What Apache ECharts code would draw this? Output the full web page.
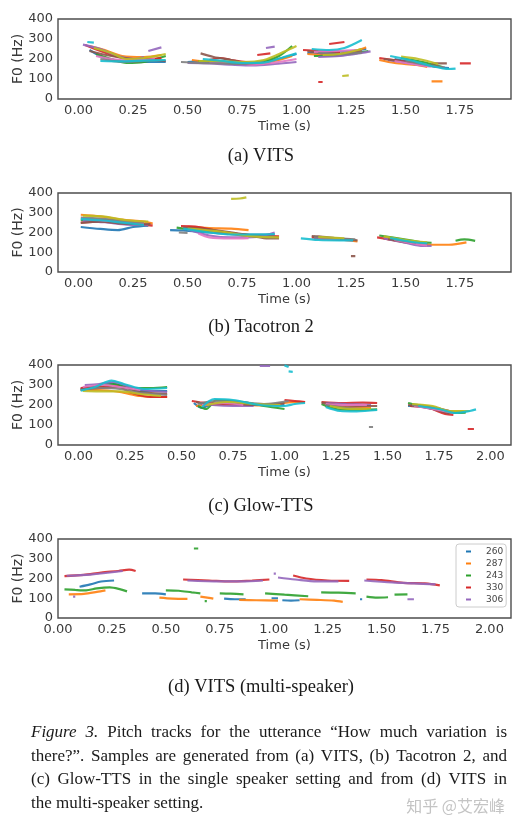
<!DOCTYPE html>
<html><head><meta charset="utf-8">
<script src="https://cdn.jsdelivr.net/npm/echarts@6/dist/echarts.min.js"></script>
<style>html,body{margin:0;padding:0;background:#fff;}#c{width:520px;height:831px;}</style>
</head><body><div id="c"></div>
<script>
// ---------- data ----------
const COLORS = ['#1f77b4','#ff7f0e','#2ca02c','#d62728','#9467bd','#8c564b','#e377c2','#7f7f7f','#bcbd22','#17becf'];
const xTicksA = [0, 0.25, 0.5, 0.75, 1.0, 1.25, 1.5, 1.75];
const xTicksC = [0, 0.25, 0.5, 0.75, 1.0, 1.25, 1.5, 1.75, 2.0];
const yTicks = [0, 100, 200, 300, 400];
const speakers = ['260', '287', '243', '330', '306'];
const panelTitles = ['(a) VITS', '(b) Tacotron 2', '(c) Glow-TTS', '(d) VITS (multi-speaker)'];

// each sample: list of voiced segments, each [time (s), F0 (Hz)]
const tracksVITS = [
 [[[0.05,245],[0.12,205],[0.2,190],[0.3,185],[0.4,185]],[[0.5,185],[0.6,190],[0.7,180],[0.8,178],[0.9,195],[1.0,225]],[[1.05,230],[1.15,235],[1.25,240],[1.32,250]],[[1.45,200],[1.55,180],[1.65,160],[1.7,155]]],
 [[[0.05,265],[0.12,245],[0.2,215],[0.3,210],[0.38,220]],[[0.52,195],[0.6,185],[0.7,178],[0.8,175],[0.9,190],[0.98,215]],[[1.05,225],[1.15,220],[1.25,235],[1.32,258]],[[1.38,195],[1.45,180],[1.55,170],[1.6,160]],[[1.62,88],[1.67,88]]],
 [[[0.08,225],[0.15,200],[0.22,180],[0.3,185],[0.4,215]],[[0.55,188],[0.65,185],[0.75,178],[0.85,190],[0.92,215],[0.98,265]],[[1.08,215],[1.15,215],[1.25,225],[1.33,240]],[[1.48,205],[1.58,185],[1.67,160]]],
 [[[0.03,270],[0.1,240],[0.2,205],[0.3,200],[0.38,205]],[[0.6,195],[0.65,205],[0.7,195],[0.8,180]],[[0.82,220],[0.88,228]],[[1.03,245],[1.1,240],[1.2,235]],[[1.15,275],[1.22,285]],[[1.1,85],[1.12,85]],[[1.38,205],[1.48,190],[1.58,172],[1.65,162]],[[1.75,178],[1.8,178]]],
 [[[0.02,272],[0.1,250],[0.18,215],[0.26,200],[0.3,210]],[[0.32,240],[0.38,258]],[[0.5,180],[0.6,178],[0.7,172],[0.8,168],[0.9,175],[1.0,185]],[[0.86,255],[0.9,262]],[[1.1,210],[1.2,215],[1.3,230],[1.34,238]],[[1.42,195],[1.52,178],[1.6,165]]],
 [[[0.05,240],[0.15,215],[0.25,200],[0.35,195],[0.4,190]],[[0.56,228],[0.62,210],[0.7,195],[0.8,175],[0.88,180]],[[1.05,240],[1.15,225],[1.25,230],[1.3,240]],[[1.4,200],[1.5,185],[1.6,168]],[[1.62,178],[1.69,178]]],
 [[[0.08,215],[0.15,200],[0.25,195],[0.35,200]],[[0.6,182],[0.7,185],[0.8,172],[0.9,182],[1.0,200]],[[1.08,235],[1.18,240],[1.28,245]],[[1.45,190],[1.55,172],[1.62,162]]],
 [[[0.1,200],[0.2,185],[0.3,190],[0.38,195]],[[0.47,185],[0.55,180],[0.65,178],[0.75,175],[0.85,185]],[[1.1,230],[1.2,225],[1.3,232]],[[1.5,190],[1.6,170],[1.68,158]]],
 [[[0.07,255],[0.15,230],[0.22,200],[0.3,205],[0.4,225]],[[0.55,190],[0.65,190],[0.75,185],[0.85,195],[0.95,240],[1.0,265]],[[1.12,220],[1.2,225],[1.3,250]],[[1.21,115],[1.24,118]],[[1.48,212],[1.56,200],[1.65,175]]],
 [[[0.04,285],[0.07,282]],[[0.1,190],[0.2,188],[0.3,192],[0.4,195]],[[0.57,200],[0.65,192],[0.75,180],[0.85,182],[0.93,205],[1.0,228]],[[1.07,250],[1.15,245],[1.22,255],[1.3,295]],[[1.43,215],[1.52,195],[1.62,165],[1.7,150],[1.73,152]]]
];

const tracksTaco = [
 [[[0.01,228],[0.1,218],[0.18,212],[0.25,228],[0.32,235]],[[0.42,212],[0.48,210],[0.6,200],[0.75,190],[0.9,190]],[[1.1,170],[1.2,165],[1.25,162]],[[1.42,170],[1.5,150],[1.58,140]]],
 [[[0.01,290],[0.1,282],[0.2,265],[0.3,255],[0.34,245]],[[0.5,228],[0.6,222],[0.7,220],[0.78,212]],[[1.12,168],[1.22,162],[1.28,155]],[[1.4,170],[1.5,150],[1.6,138],[1.7,138],[1.78,150]]],
 [[[0.01,262],[0.1,265],[0.2,255],[0.3,245]],[[0.45,225],[0.55,210],[0.65,200],[0.8,185],[0.9,175]],[[1.08,178],[1.18,168],[1.27,162]],[[1.38,185],[1.48,168],[1.58,150],[1.62,148]],[[1.73,158],[1.77,165],[1.82,158]]],
 [[[0.01,250],[0.1,255],[0.2,248],[0.3,240],[0.34,235]],[[0.47,232],[0.55,228],[0.65,205],[0.8,185],[0.92,180]],[[1.07,175],[1.15,170],[1.25,165]],[[1.37,175],[1.47,158],[1.57,140]]],
 [[[0.02,258],[0.12,252],[0.22,240],[0.32,238]],[[0.5,215],[0.6,185],[0.7,175],[0.82,178],[0.9,200]],[[1.08,170],[1.18,165],[1.26,160]],[[1.4,170],[1.5,148],[1.58,132],[1.62,132]]],
 [[[0.01,248],[0.1,255],[0.2,245],[0.33,242]],[[0.48,225],[0.6,215],[0.75,192],[0.85,172],[0.92,170]],[[1.07,182],[1.1,180],[1.2,168],[1.28,160]],[[1.25,80],[1.27,80]],[[1.42,168],[1.52,150],[1.6,140]]],
 [[[0.02,270],[0.1,262],[0.2,255],[0.3,248]],[[0.55,195],[0.6,175],[0.7,170],[0.78,172]],[[1.1,172],[1.2,168]],[[1.45,162],[1.55,142],[1.6,135]]],
 [[[0.01,275],[0.1,270],[0.2,258],[0.3,250]],[[0.46,200],[0.5,198]],[[0.6,205],[0.75,185],[0.9,175]],[[1.08,175],[1.2,170],[1.27,165]],[[1.45,165],[1.55,148]]],
 [[[0.02,285],[0.12,280],[0.22,262],[0.32,255]],[[0.5,220],[0.65,205],[0.8,180],[0.92,175]],[[0.7,370],[0.74,372],[0.77,378]],[[1.1,178],[1.22,170]],[[1.4,180],[1.5,162],[1.6,150]]],
 [[[0.01,268],[0.1,262],[0.2,250],[0.3,238]],[[0.48,220],[0.6,200],[0.7,190],[0.85,190],[0.9,192]],[[1.02,170],[1.1,162],[1.2,160],[1.26,160]],[[1.43,172],[1.53,152],[1.6,145]]]
];

const tracksGlow = [
 [[[0.01,280],[0.08,295],[0.15,310],[0.2,300],[0.3,270],[0.43,270]],[[0.56,210],[0.6,185],[0.65,205],[0.75,205],[0.9,200],[1.0,200]],[[1.2,200],[1.3,185],[1.42,180]],[[1.6,195],[1.7,190],[1.8,165],[1.88,165]]],
 [[[0.01,275],[0.1,275],[0.2,265],[0.3,245],[0.43,240]],[[0.57,195],[0.63,200],[0.75,200],[0.9,198],[1.05,215],[1.1,215]],[[1.2,195],[1.3,190],[1.42,185]],[[1.62,200],[1.72,190],[1.8,170],[1.87,168]]],
 [[[0.02,285],[0.1,295],[0.17,305],[0.25,285],[0.35,285],[0.43,290]],[[0.58,195],[0.62,180],[0.67,225],[0.8,215],[0.9,195],[1.0,180]],[[1.18,205],[1.25,180],[1.35,175],[1.45,178]],[[1.6,210],[1.62,205],[1.7,190],[1.8,160],[1.88,162]]],
 [[[0.01,285],[0.1,290],[0.18,295],[0.26,260],[0.35,240],[0.43,240]],[[0.55,220],[0.6,212],[0.7,205],[0.85,200]],[[1.0,225],[1.05,220],[1.1,215]],[[1.18,215],[1.28,210],[1.38,212],[1.45,210]],[[1.61,195],[1.7,185],[1.78,155],[1.82,150]],[[1.89,80],[1.92,80]]],
 [[[0.03,300],[0.1,305],[0.17,315],[0.25,290],[0.35,270],[0.43,265]],[[0.58,210],[0.65,200],[0.75,195],[0.85,195]],[[0.88,395],[0.93,395]],[[1.2,210],[1.3,205],[1.42,200]],[[1.62,198],[1.72,180],[1.8,160]]],
 [[[0.01,278],[0.1,285],[0.2,290],[0.3,265],[0.43,255]],[[0.57,215],[0.62,205],[0.7,210],[0.85,200],[1.0,210]],[[1.18,212],[1.25,200],[1.35,195],[1.45,195]],[[1.6,200],[1.7,185],[1.8,158]]],
 [[[0.02,290],[0.12,300],[0.2,290],[0.3,275]],[[0.6,200],[0.7,210],[0.8,200]],[[1.2,205],[1.3,200],[1.4,200]],[[1.63,195],[1.75,175],[1.82,160]]],
 [[[0.01,275],[0.1,285],[0.2,280],[0.3,260],[0.43,250]],[[0.58,205],[0.66,220],[0.78,215],[0.9,205],[1.02,220]],[[1.2,200],[1.3,185],[1.4,180]],[[1.41,90],[1.43,90]],[[1.62,200],[1.72,188],[1.82,165]]],
 [[[0.02,270],[0.1,268],[0.2,268],[0.3,255],[0.4,245]],[[0.62,200],[0.72,215],[0.85,205],[0.98,200]],[[1.22,195],[1.32,180],[1.42,180]],[[1.62,205],[1.72,195],[1.8,170],[1.9,170]]],
 [[[0.01,272],[0.08,290],[0.16,322],[0.22,305],[0.32,280],[0.43,285]],[[0.6,190],[0.66,230],[0.75,225],[0.88,200],[1.0,195],[1.05,205],[1.1,210]],[[1.0,398],[1.02,390]],[[1.02,368],[1.04,366]],[[1.2,190],[1.27,170],[1.35,168],[1.45,175]],[[1.65,195],[1.75,180],[1.83,160],[1.9,170],[1.93,178]]]
];

const tracksMulti = [
 [[[0.1,158],[0.15,170],[0.2,185],[0.26,190]],[[0.39,125],[0.45,125],[0.5,120]],[[0.77,98],[0.82,95],[0.87,95]],[[0.99,100],[1.02,100]],[[1.04,90],[1.08,88],[1.12,90]],[[1.4,95],[1.41,95]]],
 [[[0.05,120],[0.12,122],[0.18,132],[0.22,140]],[[0.47,103],[0.53,98],[0.6,97]],[[0.66,108],[0.7,102],[0.72,98]],[[0.84,92],[0.92,90],[1.02,88]],[[1.12,95],[1.2,92],[1.28,88],[1.32,82]]],
 [[[0.03,145],[0.08,142],[0.13,140],[0.18,150],[0.24,155],[0.29,145],[0.32,135]],[[0.5,140],[0.56,138],[0.62,130],[0.66,125]],[[0.68,85],[0.69,85]],[[0.63,352],[0.65,352]],[[0.75,125],[0.8,123],[0.86,120]],[[0.96,125],[1.05,118],[1.16,110]],[[1.22,130],[1.3,128],[1.38,125]],[[1.43,108],[1.48,103],[1.53,105]],[[1.56,118],[1.62,120]]],
 [[[0.03,212],[0.12,218],[0.2,230],[0.28,238],[0.33,245],[0.36,238]],[[0.58,195],[0.7,190],[0.8,185],[0.9,190],[0.98,195]],[[1.09,215],[1.15,200],[1.25,190],[1.35,188]],[[1.43,195],[1.5,192],[1.6,178],[1.7,175],[1.77,165]]],
 [[[0.04,214],[0.15,220],[0.3,238]],[[0.07,108],[0.08,108]],[[0.6,190],[0.75,185],[0.85,185],[0.95,190]],[[1.0,225],[1.01,225]],[[1.02,205],[1.1,195],[1.2,185],[1.3,185]],[[1.42,190],[1.55,180],[1.65,175],[1.75,170]],[[1.62,95],[1.65,95]]]
];

// ---------- layout ----------
const FONT = 'DejaVu Sans';
const SERIF = 'Liberation Serif';
const panels = [
  {tracks: tracksVITS, top: 19, height: 80, min: -0.0945, max: 1.9845, ticks: xTicksA},
  {tracks: tracksTaco, top: 193, height: 79, min: -0.0945, max: 1.9845, ticks: xTicksA},
  {tracks: tracksGlow, top: 365, height: 80, min: -0.1, max: 2.1, ticks: xTicksC},
  {tracks: tracksMulti, top: 539, height: 79, min: 0, max: 2.1, ticks: xTicksC}
];
const captionY = [156, 327, 506, 687];

const grid = [], xAxis = [], yAxis = [], series = [];
panels.forEach((p, gi) => {
  grid.push({left: 58, top: p.top, width: 453, height: p.height, show: true,
    borderColor: '#4d4d4d', borderWidth: 1.4, backgroundColor: 'transparent', outerBoundsMode: 'none'});
  xAxis.push({type: 'value', gridIndex: gi, min: p.min, max: p.max,
    axisLine: {show: false}, axisTick: {show: false}, splitLine: {show: false},
    axisLabel: {customValues: p.ticks, formatter: v => v.toFixed(2), fontFamily: FONT, fontSize: 13, color: '#3a3a3a', margin: 5},
    name: 'Time (s)', nameLocation: 'middle', nameGap: 21, nameMoveOverlap: false,
    nameTextStyle: {fontFamily: FONT, fontSize: 13, color: '#3a3a3a'}});
  yAxis.push({type: 'value', gridIndex: gi, min: 0, max: 400, interval: 100,
    axisLine: {show: false}, axisTick: {show: false}, splitLine: {show: false},
    axisLabel: {customValues: yTicks, fontFamily: FONT, fontSize: 13, color: '#3a3a3a', margin: 5},
    name: 'F0 (Hz)', nameLocation: 'middle', nameGap: 33, nameRotate: 90, nameMoveOverlap: false,
    nameTextStyle: {fontFamily: FONT, fontSize: 14, color: '#3a3a3a'}});
  p.tracks.forEach((segs, si) => {
    const data = [];
    segs.forEach(seg => { seg.forEach(pt => data.push(pt)); data.push([seg[seg.length - 1][0], '-']); });
    series.push({
      type: 'line', name: gi === 3 ? speakers[si] : ('p' + gi + '_' + si),
      xAxisIndex: gi, yAxisIndex: gi, data: data, showSymbol: false, symbol: 'none',
      connectNulls: false, smooth: 0.3, silent: true,
      lineStyle: {width: 2.2, color: COLORS[si], opacity: 0.9}, itemStyle: {color: COLORS[si]}
    });
  });
});

// ---------- captions ----------
const graphic = [];
panelTitles.forEach((t, i) => {
  graphic.push({type: 'text', x: 261, y: captionY[i],
    style: {text: t, fontFamily: SERIF, fontSize: 18.5, fill: '#1a1a1a', textAlign: 'center', textVerticalAlign: 'middle'}});
});

const capLines = [
  {y: 733, justify: true, words: [['Figure', 1], ['3.', 1], 'Pitch', 'tracks', 'for', 'the', 'utterance', '\u201cHow', 'much', 'variation', 'is']},
  {y: 757, justify: true, words: ['there?\u201d.', 'Samples', 'are', 'generated', 'from', '(a)', 'VITS,', '(b)', 'Tacotron', '2,', 'and']},
  {y: 780, justify: true, words: ['(c)', 'Glow-TTS', 'in', 'the', 'single', 'speaker', 'setting', 'and', 'from', '(d)', 'VITS', 'in']},
  {y: 804, justify: false, words: ['the', 'multi-speaker', 'setting.']}
];
const capSize = 17, capX0 = 31, capX1 = 507;
const mctx = document.createElement('canvas').getContext('2d');
function wWidth(text, italic) { mctx.font = (italic ? 'italic ' : '') + capSize + 'px "' + SERIF + '"'; return mctx.measureText(text).width; }
capLines.forEach(line => {
  const ws = line.words.map(w => Array.isArray(w) ? {t: w[0], i: true} : {t: w, i: false});
  const widths = ws.map(w => wWidth(w.t, w.i));
  const total = widths.reduce((a, b) => a + b, 0);
  const gap = line.justify ? (capX1 - capX0 - total) / (ws.length - 1) : wWidth(' ', false);
  let x = capX0;
  ws.forEach((w, k) => {
    graphic.push({type: 'text', x: x, y: line.y,
      style: {text: w.t, fontFamily: SERIF, fontSize: capSize, fontStyle: w.i ? 'italic' : 'normal', fill: '#1a1a1a', textAlign: 'left', textVerticalAlign: 'middle'}});
    x += widths[k] + gap;
  });
});
graphic.push({type: 'text', x: 505, y: 806,
  style: {text: '知乎 @艾宏峰', fontFamily: 'Noto Sans CJK SC', fontSize: 16, fill: '#c4c4c4', textAlign: 'right', textVerticalAlign: 'middle'}});

const chart = echarts.init(document.getElementById('c'), null, {renderer: 'canvas'});
chart.setOption({
  animation: false, backgroundColor: '#ffffff',
  grid, xAxis, yAxis, series, graphic,
  legend: {data: speakers, orient: 'vertical', left: 456, top: 544, itemWidth: 5, itemHeight: 2, icon: 'rect',
    itemGap: 3, padding: [3, 3, 3, 10], borderColor: '#cccccc', borderWidth: 1, borderRadius: 3,
    backgroundColor: 'rgba(255,255,255,0.85)', selectedMode: false,
    textStyle: {fontFamily: FONT, fontSize: 9, color: '#444', padding: [0, 0, 0, 10]}}
});
</script></body></html>
